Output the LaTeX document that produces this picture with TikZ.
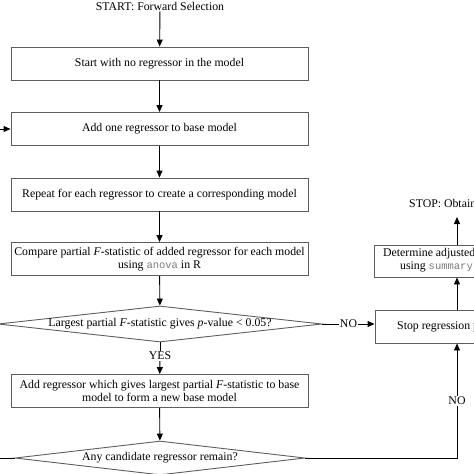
\documentclass[tikz,border=0pt]{standalone}
\usepackage{fontspec}
\setmainfont{Liberation Serif}
\setmonofont{Liberation Mono}
\usetikzlibrary{shapes.geometric,arrows.meta}
\definecolor{boxgray}{HTML}{5E5E5E}
\definecolor{codegray}{HTML}{7A7A7A}
\newcommand{\mycode}[1]{{\ttfamily\fontsize{10.5}{13.5}\selectfont\color{codegray}#1}}
\begin{document}
\begin{tikzpicture}[x=1pt,y=-1pt,
  every node/.style={font=\fontsize{11.8}{13.5}\selectfont},
  box/.style={draw=boxgray, line width=0.9pt, minimum width=297pt, minimum height=33pt, inner sep=2pt, align=center},
  rbox/.style={draw=boxgray, line width=0.9pt, minimum height=33pt, inner sep=0pt},
  dia/.style={diamond, draw=boxgray, line width=0.9pt, inner sep=0pt, shape aspect=9},
  plain/.style={inner sep=1pt},
  lbl/.style={fill=white, inner sep=1pt},
  arr/.style={draw=black, line width=0.9pt, -{Triangle[length=7pt,width=6pt]}},
  ln/.style={draw=black, line width=0.9pt}]
\useasboundingbox (0,0) rectangle (474,474);
\clip (0,0) rectangle (474,474);

\node[plain] (start) at (160,6) {START: Forward Selection};
\node[box] (b1) at (159.5,63.5) {Start with no regressor in the model};
\node[box] (b2) at (159.5,129) {Add one regressor to base model};
\node[box] (b3) at (159.5,194.5) {Repeat for each regressor to create a corresponding model};
\node[box] (b4) at (159.5,259) {Compare partial \textit{F}-statistic of added regressor for each model\\using \mycode{anova} in R};
\node[dia, minimum width=324pt, minimum height=36pt] (d1) at (160,324) {Largest partial \textit{F}-statistic gives \textit{p}-value < 0.05?};
\node[plain] (yes) at (160,356) {YES};
\node[box] (b5) at (159.5,391) {Add regressor which gives largest partial \textit{F}-statistic to base\\model to form a new base model};
\node[dia, minimum width=290pt, minimum height=34pt] (d2) at (160,458) {Any candidate regressor remain?};

\node[rbox, minimum width=164pt] (stop) at (457,326.5) {};
\node[rbox, minimum width=166pt, minimum height=32pt] (det) at (457,261) {};
\node[plain, anchor=west] (stoptxt) at (396,327) {Stop regression process};
\node[plain, anchor=west] (dettxt1) at (382,253) {Determine adjusted $R^2$};
\node[plain, anchor=west] (dettxt2) at (399,267) {using \mycode{summary} in R};
\node[plain, anchor=west] (fin) at (408,203) {STOP: Obtain final model};
\coordinate (fintip) at (457,217);
\coordinate (lp) at (-6,458);

\draw[arr] (start) -- (b1);
\draw[arr] (b1) -- (b2);
\draw[arr] (b2) -- (b3);
\draw[arr] (b3) -- (b4);
\draw[arr] (b4) -- (d1);
\draw[ln] (d1.south) -- (yes.north);
\draw[arr] (yes) -- (b5);
\draw[arr] (b5) -- (d2);
\draw[arr] (d1.east) -- node[lbl]{NO} (d1.east -| stop.west);
\draw[arr] (d2.east) -| node[lbl,pos=0.75]{NO} (stop.south);
\draw[arr] (stop.north) -- (det.south);
\draw[arr] (det.north) -- (fintip);
\draw[arr] (d2.west) -- (lp) |- (b2.west);
\end{tikzpicture}
\end{document}
